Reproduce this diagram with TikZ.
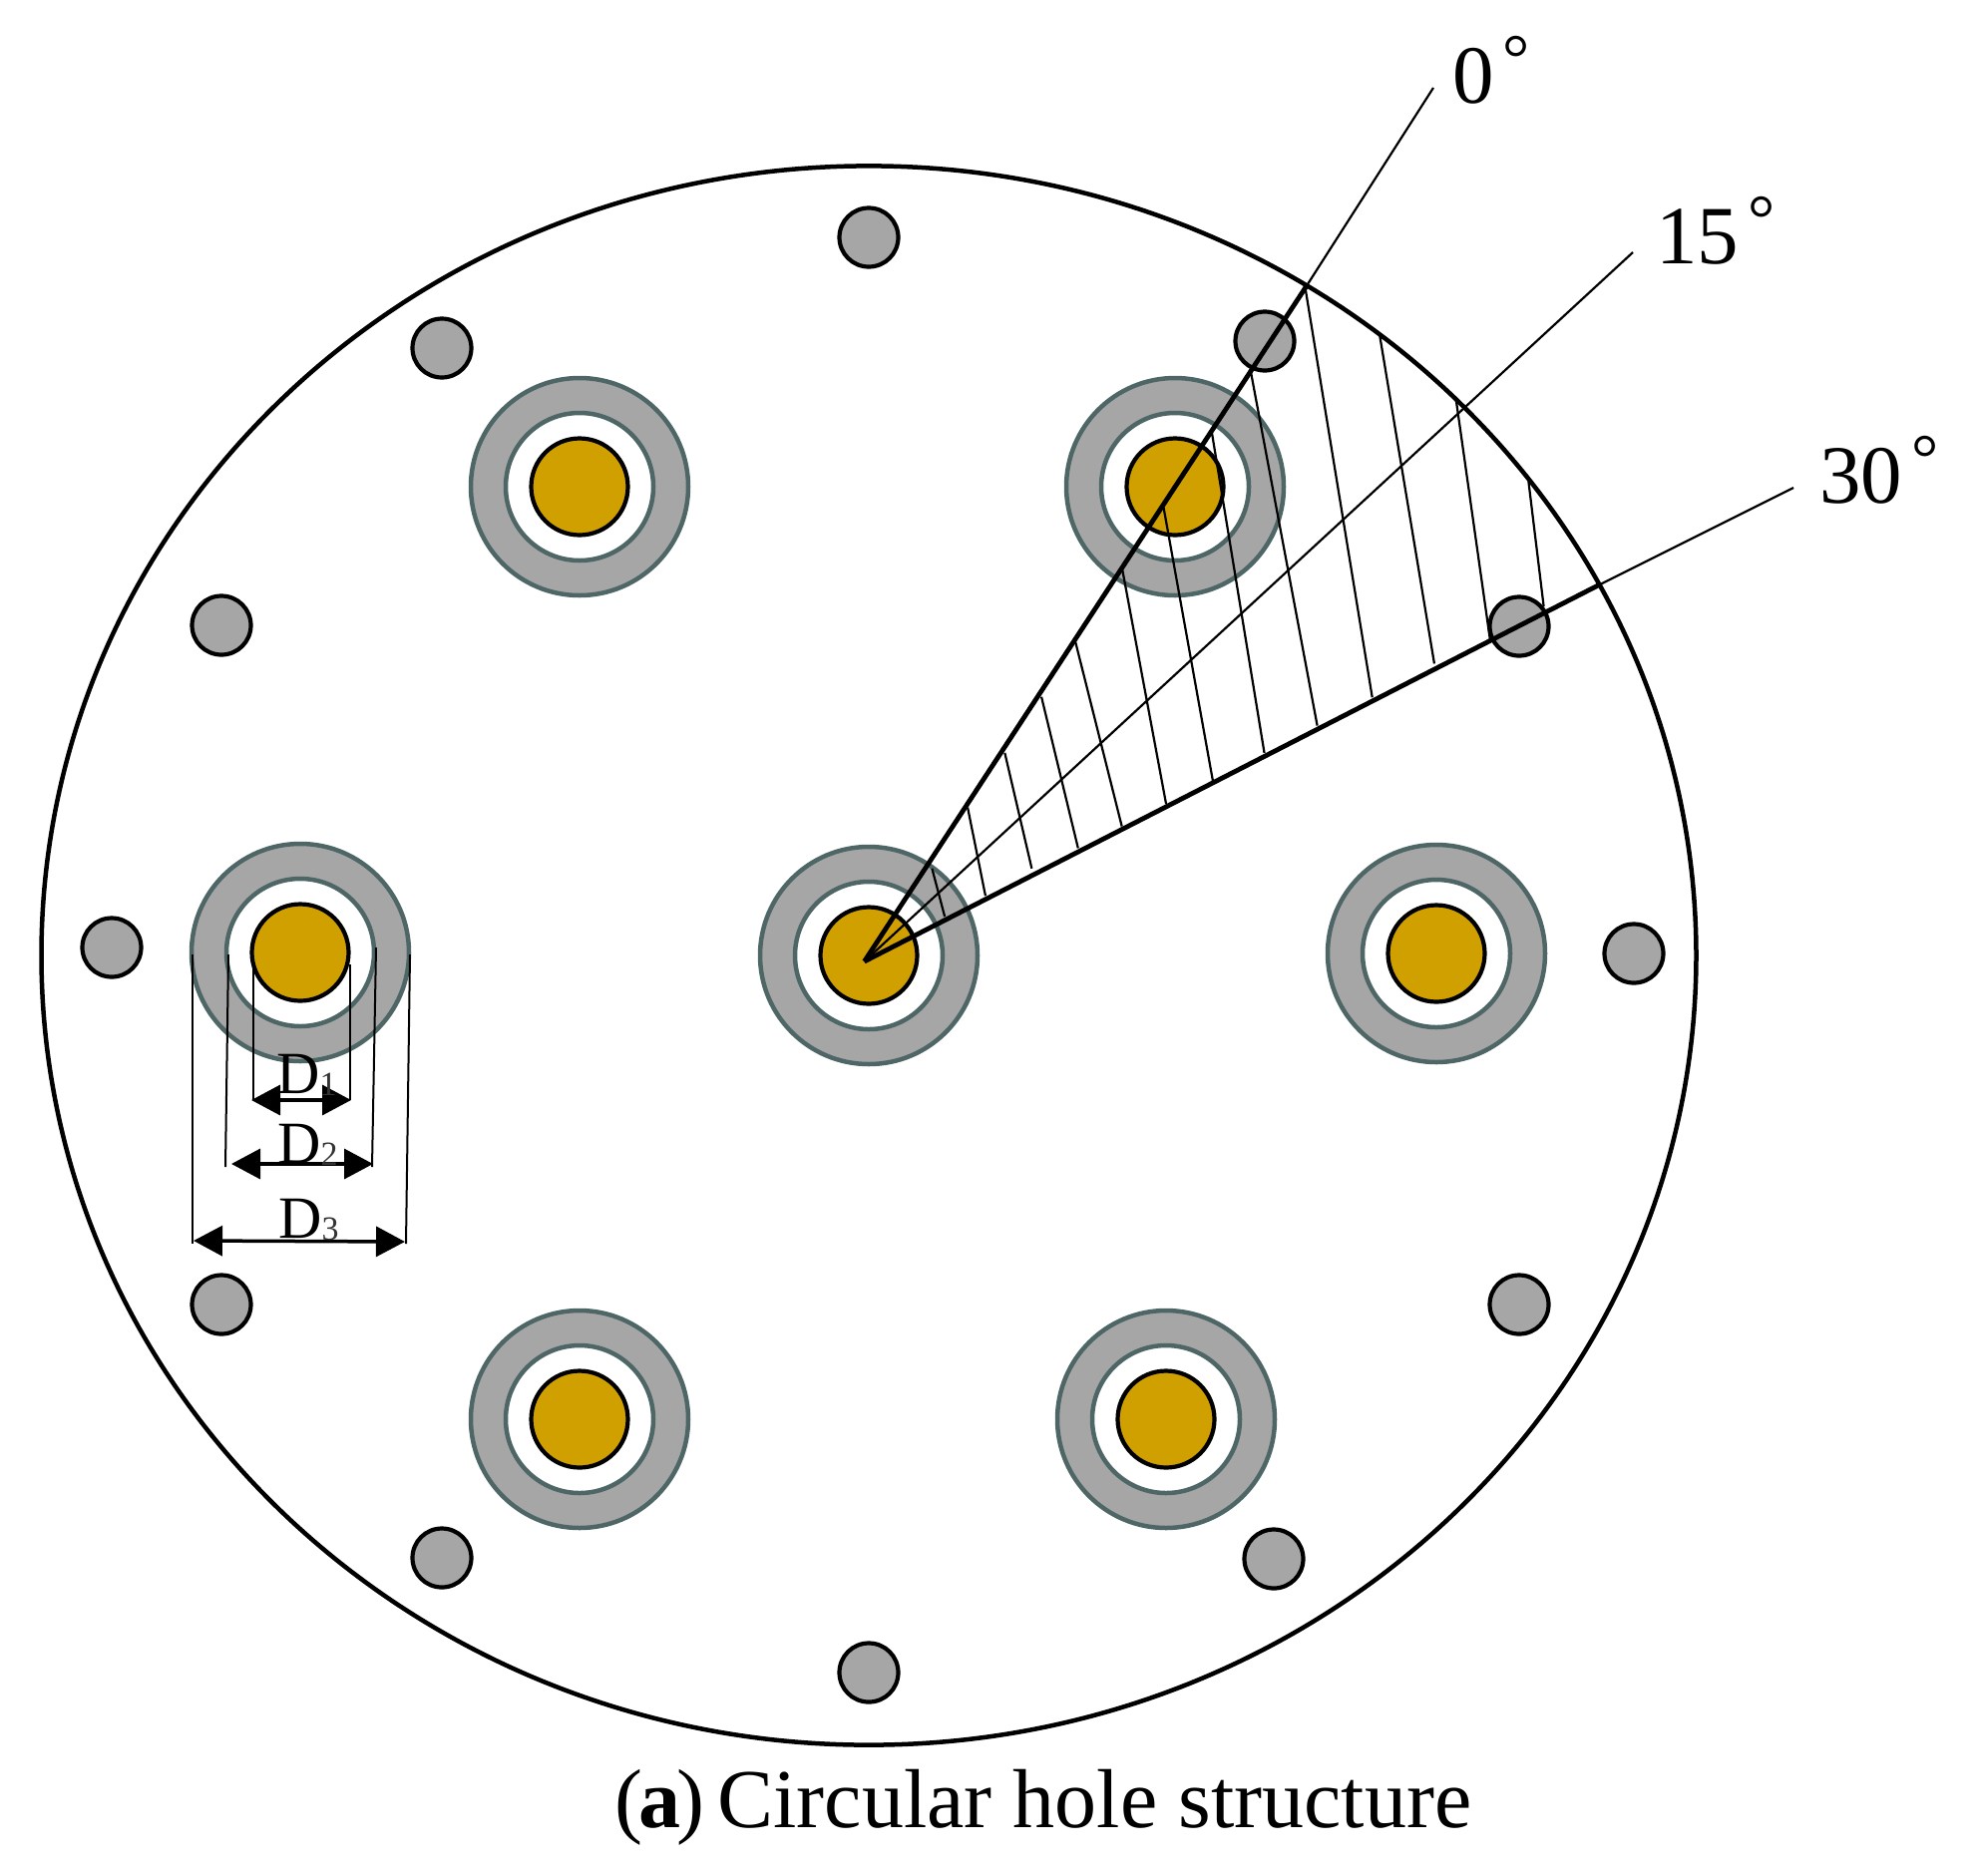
\documentclass[tikz,border=0pt]{standalone}
\usepackage{fontspec}
\setmainfont{Liberation Serif}
\usetikzlibrary{arrows.meta}
\definecolor{gold}{HTML}{D0A000}
\definecolor{steelgray}{HTML}{A6A6A6}
\definecolor{ringedge}{HTML}{4F6666}
\tikzset{
  outerring/.style={circle,draw=ringedge,line width=4.5pt,fill=steelgray,minimum size=218pt,inner sep=0pt},
  midring/.style={circle,draw=ringedge,line width=4.5pt,fill=white,minimum size=148pt,inner sep=0pt},
  core/.style={circle,draw=black,line width=4.2pt,fill=gold,minimum size=97pt,inner sep=0pt},
  bolt/.style={circle,draw=black,line width=4.2pt,fill=steelgray,minimum size=59pt,inner sep=0pt},
  thickray/.style={line width=4.8pt,black},
  thinray/.style={line width=2.2pt,black},
  hatchline/.style={line width=2.2pt,black},
  extline/.style={line width=2pt,black},
  dimarrow/.style={line width=3.5pt,black,{Triangle[length=29pt,width=30pt]}-{Triangle[length=29pt,width=30pt]}},
  anglabel/.style={anchor=base west,inner sep=0pt,font=\fontsize{83}{90}\selectfont},
  dimlabel/.style={anchor=base west,inner sep=0pt,font=\fontsize{60}{64}\selectfont},
  caption/.style={anchor=base,inner sep=0pt,font=\fontsize{84}{90}\selectfont}
}
\newcommand{\degmark}{\hspace{9pt}\raisebox{22pt}{\fontsize{68}{70}\selectfont °}}
\newcommand{\dsub}[1]{D\raisebox{-2pt}{\fontsize{34}{36}\selectfont\textcolor{black!80}{#1}}}
\begin{document}
\begin{tikzpicture}[x=1pt,y=-1pt]
\useasboundingbox (0,0) rectangle (1978,1880);
% plate
\draw[line width=4.5pt,black] (871,958) ellipse [x radius=829.5pt,y radius=791.6pt];
% concentric units
\foreach \n/\x/\y in {a/581/488,b/1178/488,c/301/955,d/871/958,e/1440/956,f/581/1423,g/1169/1423}{
  \node[outerring] (o\n) at (\x,\y) {};
  \node[midring] (m\n) at (\x,\y) {};
  \node[core] (c\n) at (\x,\y) {};
}
% bolts
\foreach \n/\x/\y in {1/871/238,2/443/349,3/222/627,4/112/950,5/222/1308,6/443/1562,7/871/1677,8/1277/1563,9/1523/1308,10/1638/956,11/1523/628,12/1268/342}{
  \node[bolt] (b\n) at (\x,\y) {};
}
% hatching
\foreach \a/\b/\c/\d in {185/1228/210/1325,255/1105/290/1283,328/995/381/1228,400/882/472/1187,467/772/558/1143,558/620/645/1098,640/500/738/1058,735/350/838/995,812/230/942/940,918/55/1050/883,1065/155/1172/815,1215/285/1282/770,1357/447/1387/700}{
  \draw[hatchline] ({840+\a*0.5102},{260+\b*0.4974}) -- ({840+\c*0.5102},{260+\d*0.4974});
}
% rays
\coordinate (apex) at (866.5,964);
\coordinate (rim0) at (1309,288);
\coordinate (end0) at (1437,88);
\coordinate (end15) at (1637,253);
\coordinate (rim30) at (1604,586);
\coordinate (end30) at (1798,489);
\draw[thickray] (apex) -- (rim0);
\draw[thinray] (rim0) -- (end0);
\draw[thinray] (apex) -- (end15);
\draw[thickray] (apex) -- (rim30);
\draw[thinray] (rim30) -- (end30);
% angle labels
\node[anglabel] (l0) at (1456,103) {0\degmark};
\node[anglabel] (l15) at (1660,264) {15\degmark};
\node[anglabel] (l30) at (1824,504) {30\degmark};
% dimensions
\draw[extline] (254,967) -- (254,1103);
\draw[extline] (351,967) -- (351,1103);
\draw[extline] (229,957) -- (226,1170);
\draw[extline] (377,950) -- (373,1170);
\draw[extline] (193,957) -- (193,1247);
\draw[extline] (411,957) -- (407,1247);
\coordinate (d1l) at (252,1103);
\coordinate (d1r) at (352,1103);
\coordinate (d2l) at (232,1167);
\coordinate (d2r) at (374,1167);
\coordinate (d3l) at (194,1244);
\coordinate (d3r) at (406,1245);
\draw[dimarrow] (d1l) -- (d1r);
\draw[dimarrow] (d2l) -- (d2r);
\draw[dimarrow] (d3l) -- (d3r);
\node[dimlabel] (t1) at (277,1096) {\dsub{1}};
\node[dimlabel] (t2) at (278,1166) {\dsub{2}};
\node[dimlabel] (t3) at (279,1241) {\dsub{3}};
% caption
\node[caption] (cap) at (1046,1832) {(\kern-4pt\textbf{a}\kern-4pt)\kern-8pt{} Circular hole structure};
\end{tikzpicture}
\end{document}
